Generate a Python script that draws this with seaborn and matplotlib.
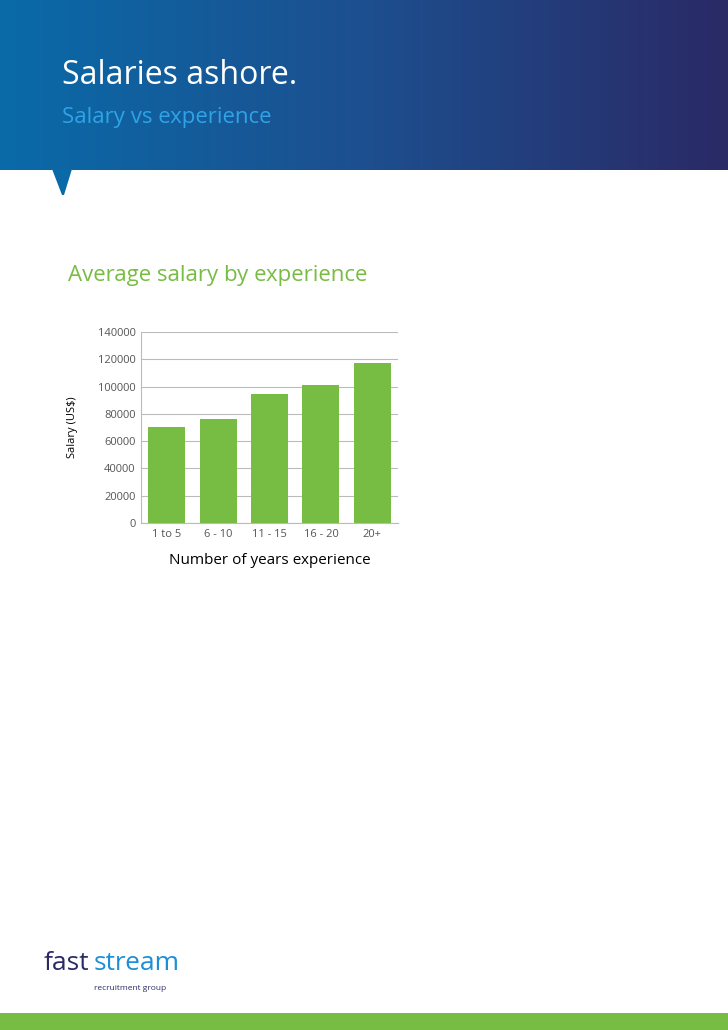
import numpy as np
import pandas as pd
import seaborn as sns
import matplotlib.pyplot as plt
from matplotlib.patches import Polygon, Rectangle
from matplotlib.colors import LinearSegmentedColormap

categories = ["1 to 5", "6 - 10", "11 - 15", "16 - 20", "20+"]
salaries = [70500, 76500, 94500, 101300, 117200]
yticks = [0, 20000, 40000, 60000, 80000, 100000, 120000, 140000]

df = pd.DataFrame({"exp": categories, "salary": salaries})

fig = plt.figure(figsize=(7.28, 10.30), dpi=100)
font = "Open Sans"

# page background: header gradient, notch, footer strip, logo
bg = fig.add_axes([0, 0, 1, 1])
bg.set_xlim(0, 728)
bg.set_ylim(1030, 0)
bg.axis("off")
grad = np.linspace(0, 1, 256).reshape(1, -1)
cmap = LinearSegmentedColormap.from_list("hdr", ["#0a6aa8", "#1d4f8f", "#2a2a66"])
bg.imshow(grad, extent=[0, 728, 170, 0], aspect="auto", cmap=cmap)
bg.add_patch(Polygon([[52, 169], [72, 169], [64, 195], [62, 195]], closed=True,
                     facecolor="#0a6aa8", edgecolor="none"))
bg.add_patch(Rectangle((0, 1013), 728, 17, facecolor="#78bd43", edgecolor="none"))
bg.text(62, 75, "Salaries ashore.", color="white", fontsize=23, family=font, va="center")
bg.text(62, 118, "Salary vs experience", color="#2fa3e6", fontsize=16, family=font, va="center")
bg.text(68, 275, "Average salary by experience", color="#78bd43", fontsize=16, family=font, va="center")
bg.text(44, 964, "fast", color="#2a2a66", fontsize=19, family=font, va="center")
bg.text(94, 964, "stream", color="#1d8fd6", fontsize=19, family=font, va="center")
bg.text(94, 988, "recruitment group", color="#2a2a66", fontsize=6, family=font, va="center")

ax = fig.add_axes([0.1937, 0.4922, 0.353, 0.1854])
sns.barplot(data=df, x="exp", y="salary", color="#78bd43", saturation=1, width=0.72, ax=ax)
ax.set_ylim(0, 140000)
ax.set_yticks(yticks)
ax.set_yticklabels([str(t) for t in yticks], fontsize=8, color="#555555", family=font)
ax.set_xticks(range(len(categories)))
ax.set_xticklabels(categories, fontsize=8, color="#555555", family=font)
ax.yaxis.grid(True, color="#bbbbbb", linewidth=0.8)
ax.set_axisbelow(True)
for s in ["top", "right"]:
    ax.spines[s].set_visible(False)
ax.spines["left"].set_color("#bbbbbb")
ax.spines["bottom"].set_color("#bbbbbb")
ax.tick_params(length=0, pad=4)
ax.set_xlabel("Number of years experience", fontsize=11, family=font, labelpad=10)
ax.set_ylabel("Salary (US$)", fontsize=8, family=font, labelpad=14)

fig.savefig("out.png", dpi=100)
